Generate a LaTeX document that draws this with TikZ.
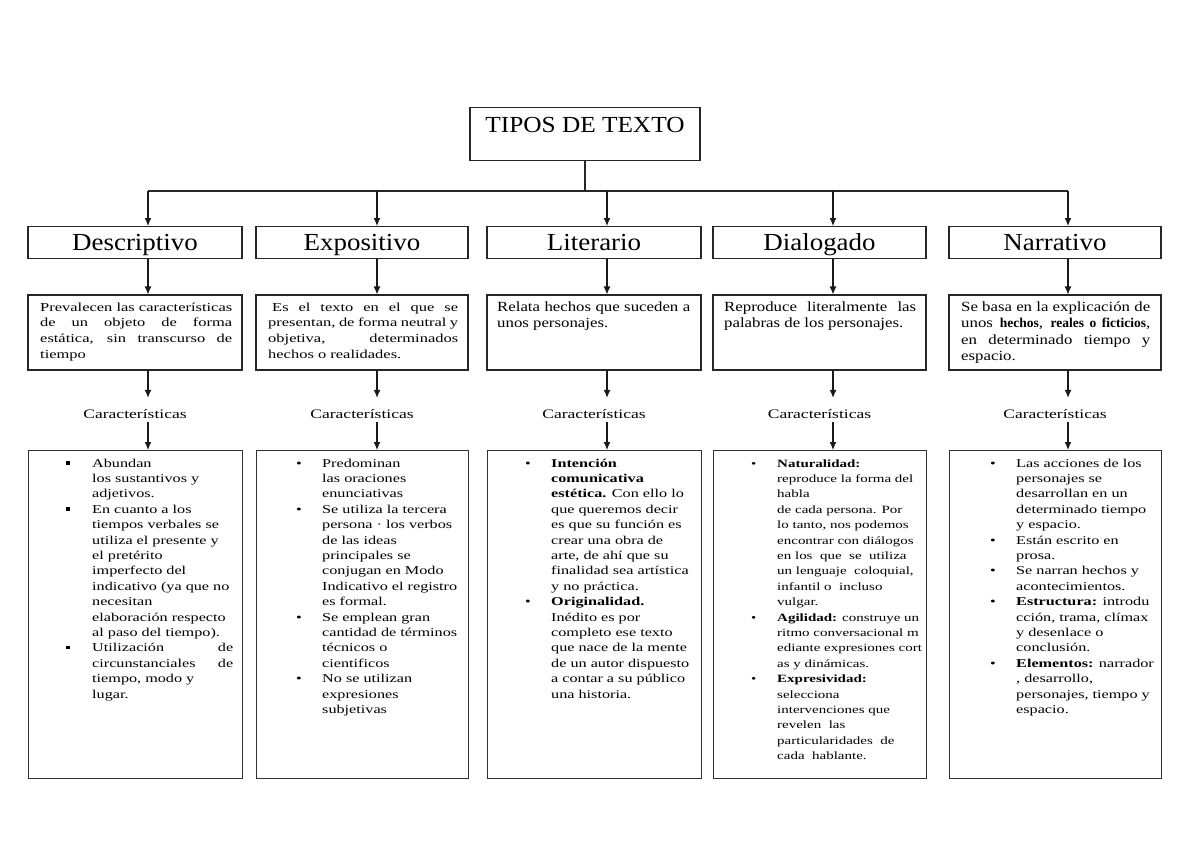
\documentclass[tikz,border=0pt]{standalone}
\usepackage{fontspec}
\setmainfont{Liberation Serif}
\newfontfamily\wideA[FakeStretch=1.1]{Liberation Serif}
\newfontfamily\wideB[FakeStretch=1.35]{Liberation Serif}
\newfontfamily\wideC[FakeStretch=1.2]{Liberation Serif}
\newfontfamily\plainbold{Liberation Serif}
\usetikzlibrary{arrows.meta}
\newcommand{\sqb}{\rule[2.5pt]{3.6pt}{3.6pt}}
\newcommand{\nb}[1]{{\plainbold\bfseries\fontsize{13.5}{16}\selectfont #1}}
\begin{document}
\begin{tikzpicture}[x=1pt,y=-1pt,
  box/.style={draw=black!85, line width=1.1pt, inner sep=0pt},
  lbox/.style={draw=black!80, line width=1.3pt, inner sep=0pt, anchor=north west, minimum height=328pt},
  arr/.style={draw=black!90, line width=1.1pt, -{Latex[length=8pt,width=7pt]}},
  ln/.style={draw=black!85, line width=1.1pt},
  typ/.style={box, text height=24pt, text depth=8pt, font=\wideA\fontsize{24.5}{28}\selectfont},
  dsc/.style={box, minimum height=75pt},
  dtxtA/.style={anchor=base west, inner sep=0pt, font=\wideB\fontsize{12.2}{15.8}\selectfont},
  dtxtB/.style={anchor=base west, inner sep=0pt, font=\wideC\fontsize{14}{16.6}\selectfont},
  car/.style={anchor=base, inner sep=0pt, text height=20pt, text depth=4pt, font=\wideB\fontsize{13}{15}\selectfont},
  lst/.style={anchor=base west, inner sep=0pt, font=\wideB\fontsize{12}{15.4}\selectfont},
]
\useasboundingbox[fill=white] (0,0) rectangle (1200,849);

% root
\node[box, anchor=north, minimum width=230pt, text height=25pt, text depth=28pt,
  font=\wideA\fontsize{23}{26}\selectfont] (root) at (585,107) {TIPOS DE TEXTO};

% bus
\coordinate (bus) at (585,191);
\coordinate (b1) at (148,191);
\coordinate (b2) at (377,191);
\coordinate (b3) at (607,191);
\coordinate (b4) at (833,191);
\coordinate (b5) at (1068,191);
\draw[ln] (root.south) -- (bus);
\draw[ln] (b1) -- (b5);

% type boxes
\node[typ, minimum width=214pt, anchor=north] (t1) at (135,226) {Descriptivo};
\node[typ, minimum width=212pt, anchor=north] (t2) at (362,226) {Expositivo};
\node[typ, minimum width=214pt, anchor=north] (t3) at (594,226) {Literario};
\node[typ, minimum width=213pt, anchor=north] (t4) at (819.5,226) {Dialogado};
\node[typ, minimum width=212pt, anchor=north] (t5) at (1055,226) {Narrativo};

% description boxes
\node[dsc, minimum width=214pt] (d1) at (135,332.5) {};
\node[dsc, minimum width=212pt] (d2) at (362,332.5) {};
\node[dsc, minimum width=214pt] (d3) at (594,332.5) {};
\node[dsc, minimum width=213pt] (d4) at (819.5,332.5) {};
\node[dsc, minimum width=212pt] (d5) at (1055,332.5) {};

\node[dtxtA] (dt1) at (40,311) {\begin{tabular}[t]{@{}l@{}}
\makebox[192pt][s]{Prevalecen las características}\\
\makebox[192pt][s]{de un objeto de forma}\\
\makebox[192pt][s]{estática, sin transcurso de}\\
tiempo\end{tabular}};
\node[dtxtA] (dt2) at (268,311) {\begin{tabular}[t]{@{}l@{}}
\hspace*{4pt}\makebox[186pt][s]{Es el texto en el que se}\\
\makebox[190pt][s]{presentan, de forma neutral y}\\
\makebox[190pt][s]{objetiva, determinados}\\
hechos o realidades.\end{tabular}};
\node[dtxtB] (dt3) at (497,311) {\begin{tabular}[t]{@{}l@{}}
\makebox[193pt][s]{Relata hechos que suceden a}\\
unos personajes.\end{tabular}};
\node[dtxtB] (dt4) at (724,311) {\begin{tabular}[t]{@{}l@{}}
\makebox[192pt][s]{Reproduce literalmente las}\\
palabras de los personajes.\end{tabular}};
\node[dtxtB] (dt5) at (961,311) {\begin{tabular}[t]{@{}l@{}}
\makebox[189pt][s]{Se basa en la explicación de}\\
\makebox[189pt][s]{unos \nb{hechos}, \nb{reales o ficticios},}\\
\makebox[189pt][s]{en determinado tiempo y}\\
espacio.\end{tabular}};

% Caracteristicas
\node[car] (c1) at (135,418) {Características};
\node[car] (c2) at (362,418) {Características};
\node[car] (c3) at (594,418) {Características};
\node[car] (c4) at (819.5,418) {Características};
\node[car] (c5) at (1055,418) {Características};

% list boxes
\node[lbox, minimum width=214pt] (l1) at (28,450) {};
\node[lbox, minimum width=212pt] (l2) at (256,450) {};
\node[lbox, minimum width=214pt] (l3) at (487,450) {};
\node[lbox, minimum width=213pt] (l4) at (713,450) {};
\node[lbox, minimum width=212pt] (l5) at (949,450) {};

\node[lst] (lt1) at (66,467) {\begin{tabular}[t]{@{}p{26pt}@{}l@{}}
\sqb & Abundan\\
 & los sustantivos y\\
 & adjetivos.\\
\sqb & En cuanto a los\\
 & tiempos verbales se\\
 & utiliza el presente y\\
 & el pretérito\\
 & imperfecto del\\
 & indicativo (ya que no\\
 & necesitan\\
 & elaboración respecto\\
 & al paso del tiempo).\\
\sqb & \makebox[141pt][s]{Utilización de}\\
 & \makebox[141pt][s]{circunstanciales de}\\
 & tiempo, modo y\\
 & lugar.
\end{tabular}};

\node[lst] (lt2) at (296,467) {\begin{tabular}[t]{@{}p{26pt}@{}l@{}}
\textbullet & Predominan\\
 & las oraciones\\
 & enunciativas\\
\textbullet & Se utiliza la tercera\\
 & persona · los verbos\\
 & de las ideas\\
 & principales se\\
 & conjugan en Modo\\
 & Indicativo el registro\\
 & es formal.\\
\textbullet & Se emplean gran\\
 & cantidad de términos\\
 & técnicos o\\
 & cientificos\\
\textbullet & No se utilizan\\
 & expresiones\\
 & subjetivas
\end{tabular}};

\node[lst] (lt3) at (525,467) {\begin{tabular}[t]{@{}p{26pt}@{}l@{}}
\textbullet & \textbf{Intención}\\
 & \textbf{comunicativa}\\
 & \textbf{estética.} Con ello lo\\
 & que queremos decir\\
 & es que su función es\\
 & crear una obra de\\
 & arte, de ahí que su\\
 & finalidad sea artística\\
 & y no práctica.\\
\textbullet & \textbf{Originalidad.}\\
 & Inédito es por\\
 & completo ese texto\\
 & que nace de la mente\\
 & de un autor dispuesto\\
 & a contar a su público\\
 & una historia.
\end{tabular}};

\node[lst, font=\wideB\fontsize{11.1}{15.4}\selectfont] (lt4) at (751,467) {\begin{tabular}[t]{@{}p{26pt}@{}l@{}}
\textbullet & \textbf{Naturalidad:}\\
 & reproduce la forma del\\
 & habla\\
 & de cada persona. Por\\
 & lo tanto, nos podemos\\
 & encontrar con diálogos\\
 & en los\ \ que\ \ se\ \ utiliza\\
 & un lenguaje\ \ coloquial,\\
 & infantil o\ \ incluso\\
 & vulgar.\\
\textbullet & \textbf{Agilidad:} construye un\\
 & ritmo conversacional m\\
 & ediante expresiones cort\\
 & as y dinámicas.\\
\textbullet & \textbf{Expresividad:}\\
 & selecciona\\
 & intervenciones que\\
 & revelen\ \ las\\
 & particularidades\ \ de\\
 & cada\ \ hablante.
\end{tabular}};

\node[lst] (lt5) at (990,467) {\begin{tabular}[t]{@{}p{26pt}@{}l@{}}
\textbullet & Las acciones de los\\
 & personajes se\\
 & desarrollan en un\\
 & determinado tiempo\\
 & y espacio.\\
\textbullet & Están escrito en\\
 & prosa.\\
\textbullet & Se narran hechos y\\
 & acontecimientos.\\
\textbullet & \textbf{Estructura:} introdu\\
 & cción, trama, clímax\\
 & y desenlace o\\
 & conclusión.\\
\textbullet & \textbf{Elementos:} narrador\\
 & , desarrollo,\\
 & personajes, tiempo y\\
 & espacio.
\end{tabular}};

% arrows
\foreach \i in {1,...,5}{
  \draw[arr] (b\i) -- (b\i |- t\i.north);
  \draw[arr] (b\i |- t\i.south) -- (b\i |- d\i.north);
  \draw[arr] (b\i |- d\i.south) -- (b\i |- c\i.north);
  \draw[arr] (b\i |- c\i.south) -- (b\i |- l\i.north);
}
\end{tikzpicture}
\end{document}
